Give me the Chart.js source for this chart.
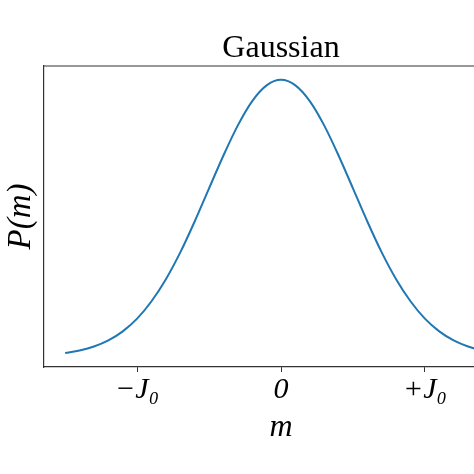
<!DOCTYPE html>
<html>
<head>
<meta charset="utf-8">
<script src="https://cdn.jsdelivr.net/npm/chart.js@4/dist/chart.umd.min.js"></script>
<style>
  html, body { margin: 0; padding: 0; background: #fff; overflow: hidden; }
  #box { width: 474px; height: 474px; overflow: hidden; }
</style>
</head>
<body>
<div id="box"><canvas id="grafico" width="562" height="474"></canvas></div>
<script>
// m in units of J0, P(m) (peak = 1)
const mValores = [
  -1.5, -1.4, -1.3, -1.2, -1.1, -1.0, -0.9, -0.8, -0.7, -0.6, -0.5,
  -0.4, -0.3, -0.2, -0.1, 0.0, 0.1, 0.2, 0.3, 0.4, 0.5,
  0.6, 0.7, 0.8, 0.9, 1.0, 1.1, 1.2, 1.3, 1.4, 1.5
];
const pValores = [
  0.011, 0.020, 0.034, 0.056, 0.089, 0.135, 0.198, 0.278, 0.375, 0.487, 0.607,
  0.726, 0.835, 0.923, 0.980, 1.000, 0.980, 0.923, 0.835, 0.726, 0.607,
  0.487, 0.375, 0.278, 0.198, 0.135, 0.089, 0.056, 0.034, 0.020, 0.011
];
const tickValores = [-1, 0, 1];
const tickLabels = ["\u2212J\u2080", "0", "+J\u2080"];

const fonte = "'Liberation Serif', 'DejaVu Serif', serif";

// top and right sides of the box
const moldura = {
  id: "moldura",
  afterDraw(chart) {
    const { ctx, chartArea } = chart;
    ctx.save();
    ctx.strokeStyle = "#333";
    ctx.lineWidth = 1.2;
    ctx.beginPath();
    ctx.moveTo(chartArea.left, chartArea.top);
    ctx.lineTo(chartArea.right, chartArea.top);
    ctx.lineTo(chartArea.right, chartArea.bottom);
    ctx.stroke();
    ctx.restore();
  },
};

const tituloY = {
  display: true,
  color: "#000",
  font: { family: fonte, size: 33, style: "italic", lineHeight: 1.2 },
  padding: { top: 2, bottom: 2 },
};

new Chart(document.getElementById("grafico"), {
  type: "line",
  data: {
    datasets: [
      {
        data: mValores.map((m, i) => ({ x: m, y: pValores[i] })),
        borderColor: "#1f77b4",
        borderWidth: 2,
        pointRadius: 0,
        cubicInterpolationMode: "monotone",
        fill: false,
      },
    ],
  },
  plugins: [moldura],
  options: {
    responsive: false,
    animation: false,
    layout: { padding: { top: 0, right: 0, bottom: 30, left: 0 } },
    plugins: {
      legend: { display: false },
      tooltip: { enabled: false },
      title: {
        display: true,
        text: "Gaussian",
        color: "#000",
        font: { family: fonte, size: 32, weight: "normal", lineHeight: 1.0 },
        padding: { top: 33, bottom: 1 },
      },
    },
    scales: {
      x: {
        type: "linear",
        min: -1.65,
        max: 1.65,
        afterBuildTicks: (scale) => {
          scale.ticks = tickValores.map((v) => ({ value: v }));
        },
        ticks: {
          color: "#000",
          padding: 0,
          maxRotation: 0,
          font: { family: fonte, size: 30, style: "italic", lineHeight: 1.2 },
          callback: (v) => tickLabels[tickValores.indexOf(v)],
        },
        grid: {
          display: true,
          drawOnChartArea: false,
          drawTicks: true,
          tickLength: 5,
          color: "#333",
          lineWidth: 1,
        },
        border: { display: true, color: "#333", width: 1.2 },
        title: {
          display: true,
          text: "m",
          color: "#000",
          font: { family: fonte, size: 32, style: "italic", lineHeight: 1.0 },
          padding: { top: 4, bottom: 0 },
        },
      },
      y: {
        min: -0.04,
        max: 1.05,
        ticks: { display: false },
        grid: { display: false, drawTicks: false },
        border: { display: true, color: "#333", width: 1.2 },
        title: { ...tituloY, text: "P(m)" },
      },
      // empty axis on the right, off screen, so the title sits over the plot centre
      y2: {
        position: "right",
        min: 0,
        max: 1,
        ticks: { display: false },
        grid: { display: false, drawTicks: false },
        border: { display: false },
        title: { ...tituloY, text: " " },
      },
    },
  },
});
</script>
</body>
</html>
